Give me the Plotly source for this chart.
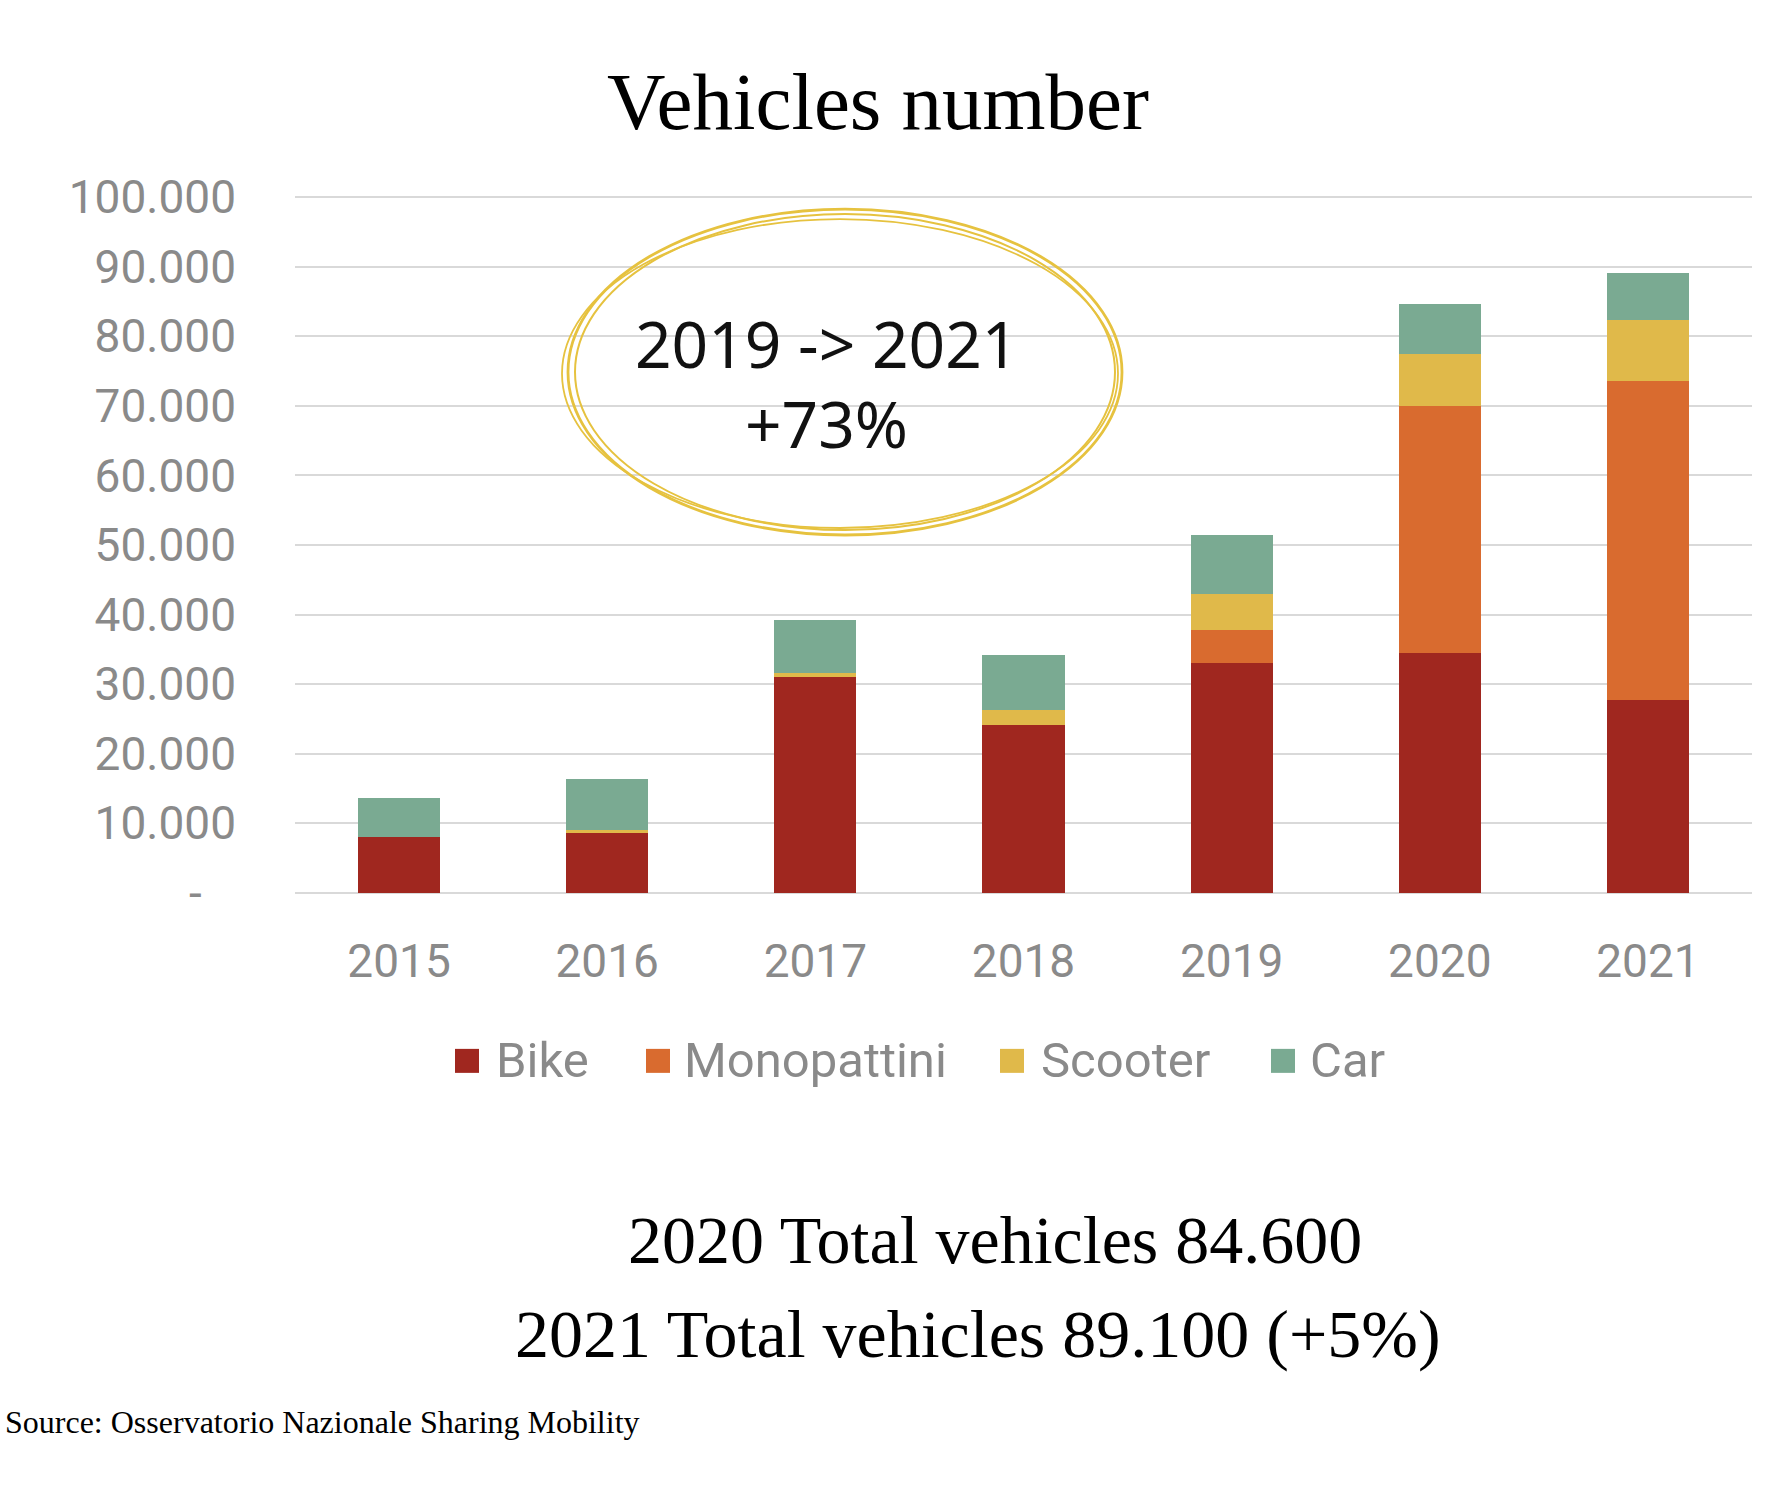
import plotly.graph_objects as go

# ---------------- data ----------------
years = ["2015", "2016", "2017", "2018", "2019", "2020", "2021"]
bike = [8100, 8600, 31000, 24200, 33100, 34500, 27700]
monopattini = [0, 0, 0, 0, 4700, 35500, 45800]
scooter = [0, 400, 600, 2100, 5100, 7400, 8800]
car = [5500, 7300, 7600, 7900, 8500, 7200, 6800]

series_names = ["Bike", "Monopattini", "Scooter", "Car"]
series_values = [bike, monopattini, scooter, car]
series_colors = ["#A0271F", "#D96B2F", "#E0B94A", "#7AAA92"]

y_tick_values = list(range(0, 100001, 10000))
y_tick_labels = ["-\u00a0\u00a0\u00a0"] + [f"{v:,}".replace(",", ".") for v in y_tick_values[1:]]

title_text = "Vehicles number"
note_lines = ["2020 Total vehicles 84.600", "2021 Total vehicles 89.100 (+5%)"]
callout_lines = ["2019 -> 2021", "+73%"]
source_text = "Source: Osservatorio Nazionale Sharing Mobility"

# ---------------- layout geometry (pixels) ----------------
W, H = 1792, 1488
PL, PR = 295, 1752
Y100, Y0 = 197, 893          # pixel rows of 100.000 and 0
PAD = 300                    # small range padding so edge gridlines are drawn
YMIN, YMAX = -PAD, 100000 + PAD
ppu = (Y0 - Y100) / 100000.0
PT = Y100 - PAD * ppu
PB = Y0 + PAD * ppu


def px(x):
    return (x - PL) / (PR - PL)


def py(y):
    return (PB - y) / (PB - PT)


fig = go.Figure()
for name, vals, col in zip(series_names, series_values, series_colors):
    fig.add_trace(go.Bar(x=years, y=vals, name=name, marker_color=col,
                         marker_line_width=0, showlegend=False))

SANS = "Roboto, Arial, sans-serif"
SERIF = "Liberation Serif, Times New Roman, serif"
GRAY = "#8a8a8a"

annotations = []
shapes = []

# manual legend
legend_square_x = [455, 646, 1000, 1271]
legend_text_x = [494, 682, 1039, 1308]
legend_y = 1061
sq = 24
for name, col, sx, tx in zip(series_names, series_colors, legend_square_x, legend_text_x):
    shapes.append(dict(type="rect", xref="paper", yref="paper",
                       x0=px(sx), x1=px(sx + sq), y0=py(legend_y + sq / 2), y1=py(legend_y - sq / 2),
                       fillcolor=col, line=dict(width=0)))
    annotations.append(dict(text=name, xref="paper", yref="paper", x=px(tx), y=py(legend_y),
                            xanchor="left", yanchor="middle", showarrow=False,
                            font=dict(family=SANS, size=49, color=GRAY)))

# callout ellipse (hand-drawn look: a few offset strokes)
ell = [(568, 209, 1122, 535, 2.8), (575, 214, 1115, 530, 2.0), (562, 219, 1118, 528, 1.8)]
for x0, y0, x1, y1, w in ell:
    shapes.append(dict(type="circle", xref="paper", yref="paper",
                       x0=px(x0), x1=px(x1), y0=py(y1), y1=py(y0),
                       line=dict(color="#E6C23F", width=w)))

callout_y = [343, 423]
for txt, cy in zip(callout_lines, callout_y):
    annotations.append(dict(text=txt, xref="paper", yref="paper", x=px(826), y=py(cy),
                            xanchor="center", yanchor="middle", showarrow=False,
                            font=dict(family="Noto Sans, DejaVu Sans, sans-serif", size=64,
                                      color="#111111")))

note_pos = [(995, 1240), (978, 1334)]
for txt, (cx, cy) in zip(note_lines, note_pos):
    annotations.append(dict(text=txt, xref="paper", yref="paper", x=px(cx), y=py(cy),
                            xanchor="center", yanchor="middle", showarrow=False,
                            font=dict(family=SERIF, size=68, color="#000000")))

annotations.append(dict(text=source_text, xref="paper", yref="paper", x=px(3), y=py(1422),
                        xanchor="left", yanchor="middle", showarrow=False,
                        font=dict(family=SERIF, size=32, color="#000000")))

fig.update_layout(
    width=W, height=H,
    margin=dict(l=PL, r=W - PR, t=PT, b=H - PB, pad=0),
    paper_bgcolor="white", plot_bgcolor="white",
    barmode="stack", bargap=0.605,
    showlegend=False,
    title=dict(text=title_text, x=878 / W, xanchor="center", y=1 - 101 / H, yanchor="middle",
               font=dict(family=SERIF, size=81, color="#000000")),
    xaxis=dict(type="category", showgrid=False, showline=False, zeroline=False, ticks="",
               tickfont=dict(family=SANS, size=46, color=GRAY), ticklabelstandoff=35),
    yaxis=dict(range=[YMIN, YMAX], tickvals=y_tick_values, ticktext=y_tick_labels,
               showgrid=True, gridcolor="#d9d9d9", gridwidth=2, zeroline=False,
               showline=False, ticks="", tickfont=dict(family=SANS, size=46, color=GRAY),
               ticklabelstandoff=58),
    annotations=annotations,
    shapes=shapes,
)

fig.write_html("out.html")
